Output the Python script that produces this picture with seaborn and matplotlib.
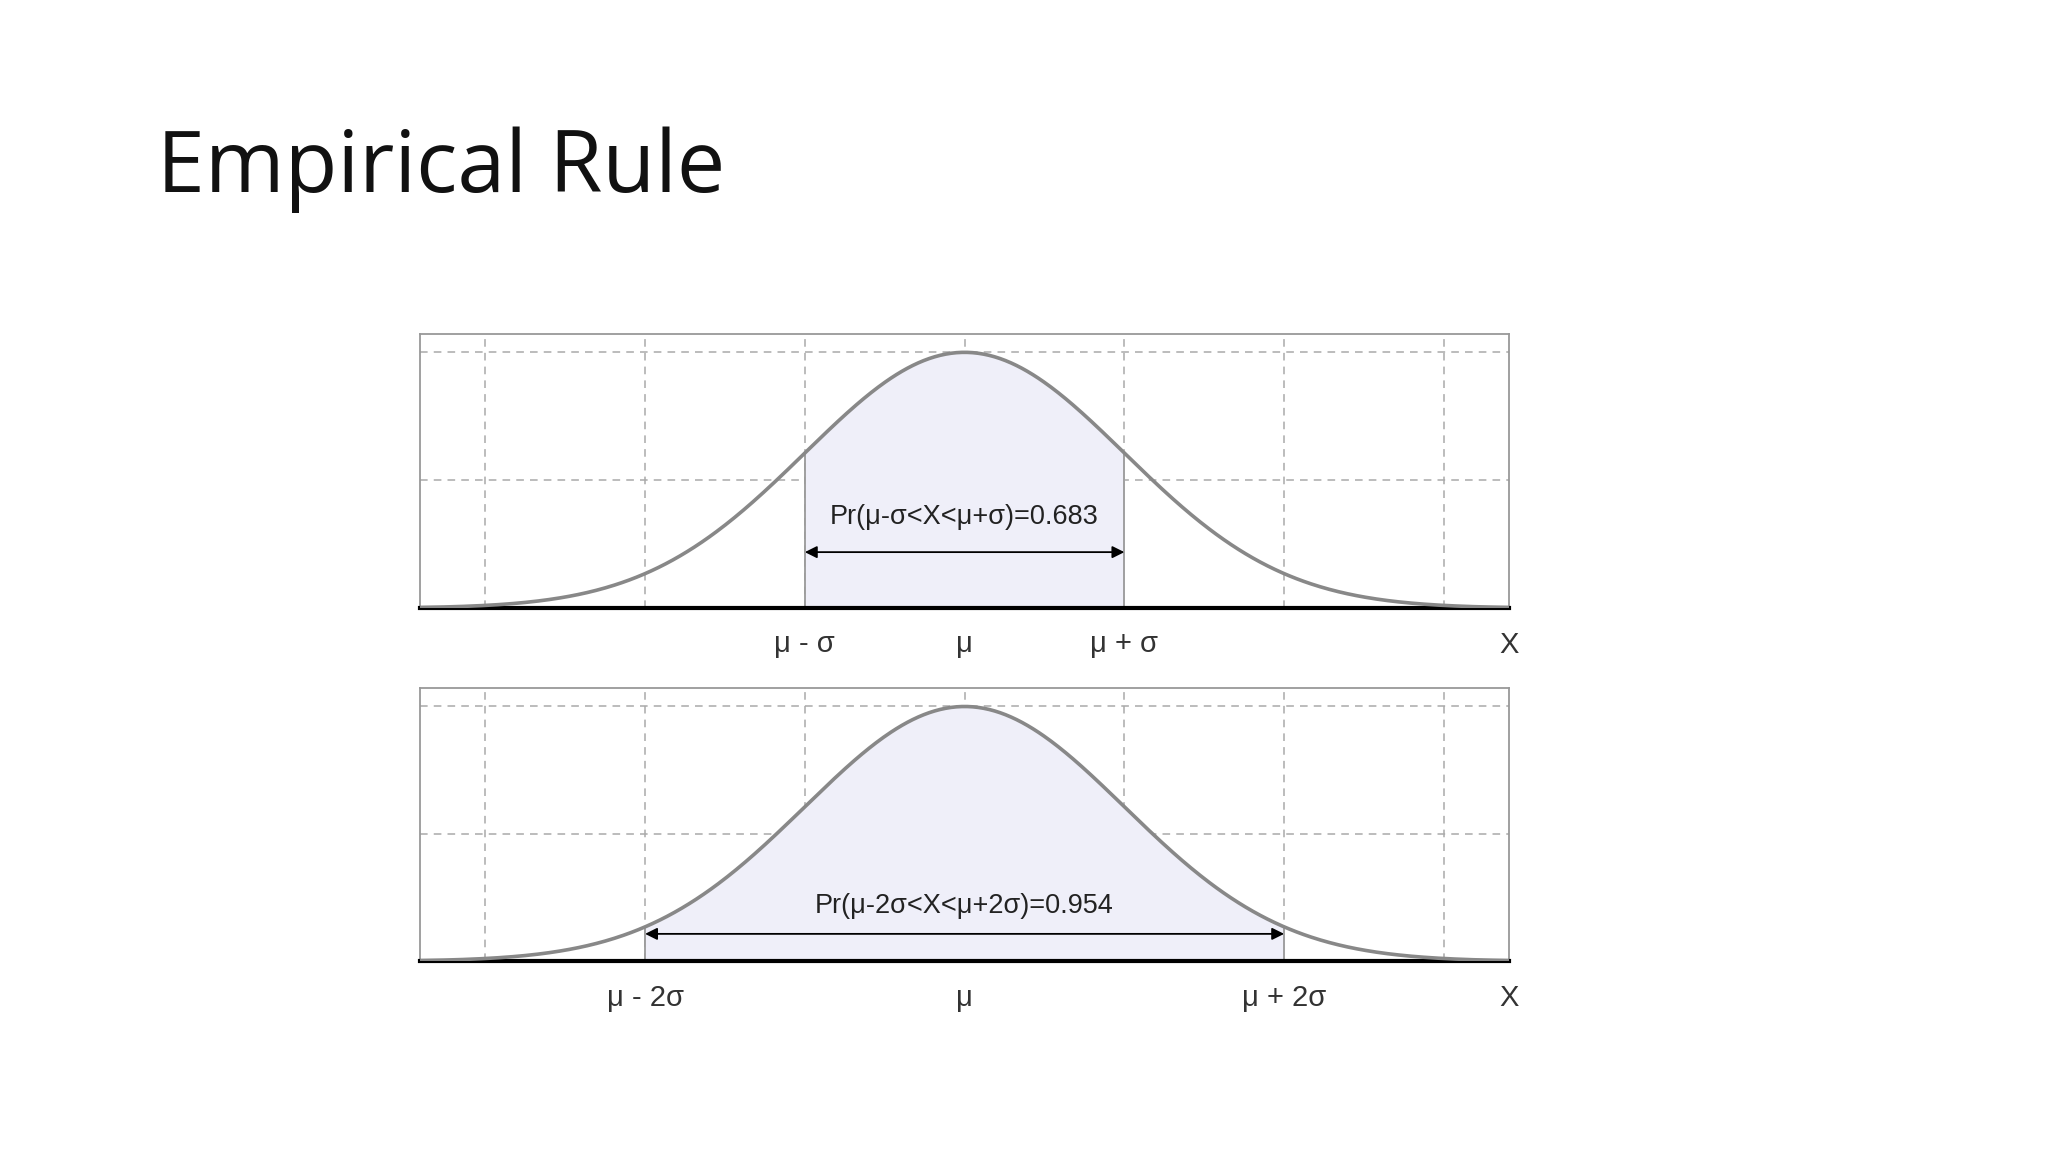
import numpy as np
import matplotlib.pyplot as plt
import seaborn as sns
import pandas as pd

sns.set_theme(style="white")
plt.rcParams['font.family'] = ['Liberation Sans', 'DejaVu Sans']

# chart content
title = "Empirical Rule"
sigma_ticks = [-3, -2, -1, 0, 1, 2, 3]
panels = [
    {"k": 1, "labels": ["", "", "μ - σ", "μ", "μ + σ", "", ""],
     "text": "Pr(μ-σ<X<μ+σ)=0.683", "text_y": 0.1425, "arrow_y": 0.0875},
    {"k": 2, "labels": ["", "μ - 2σ", "", "μ", "", "μ + 2σ", ""],
     "text": "Pr(μ-2σ<X<μ+2σ)=0.954", "text_y": 0.086, "arrow_y": 0.043},
]
x_lim = (-3.41, 3.41)
y_lim = (0, 0.4274)

# standard normal density
x = np.linspace(x_lim[0], x_lim[1], 600)
df = pd.DataFrame({"x": x, "pdf": np.exp(-x**2 / 2) / np.sqrt(2 * np.pi)})

fig = plt.figure(figsize=(20.48, 11.52), dpi=100)
fig.text(0.0765, 0.853, title, fontsize=62, family=['Open Sans', 'DejaVu Sans'],
         fontweight='normal', va='center', ha='left', color='#111111')

boxes = [[0.205, 0.472, 0.532, 0.238], [0.205, 0.1655, 0.532, 0.237]]
for box, p in zip(boxes, panels):
    ax = fig.add_axes(box)
    k = p["k"]
    mask = (df["x"] >= -k) & (df["x"] <= k)
    ax.fill_between(df["x"][mask], df["pdf"][mask], color="#efeff9", zorder=1)
    ax.vlines([-k, k], 0, df["pdf"][mask].iloc[[0, -1]], color="#999999", lw=1.3, zorder=2)
    sns.lineplot(data=df, x="x", y="pdf", ax=ax, color="#888888", lw=2.6, zorder=3)
    ax.set_xlim(x_lim)
    ax.set_ylim(y_lim)
    ax.set_xticks(sigma_ticks)
    ax.set_xticklabels(p["labels"], fontsize=21, color="#333333")
    ax.set_yticks([0.2, 0.4])
    ax.set_yticklabels([])
    ax.tick_params(length=0, pad=16)
    ax.grid(True, ls=(0, (5, 4)), color="#aaaaaa", lw=1.1)
    ax.set_xlabel("")
    ax.set_ylabel("")
    for s in ["top", "left", "right"]:
        ax.spines[s].set_color("#999999")
        ax.spines[s].set_linewidth(1.3)
    ax.spines["bottom"].set_color("black")
    ax.spines["bottom"].set_linewidth(3)
    ax.text(x_lim[1], -0.035, "X", fontsize=21, color="#333333", ha="center", va="top")
    ax.annotate("", xy=(-k, p["arrow_y"]), xytext=(k, p["arrow_y"]),
                arrowprops=dict(arrowstyle="<|-|>", color="black", lw=1.3,
                                mutation_scale=18, shrinkA=0, shrinkB=0), zorder=4)
    ax.text(0, p["text_y"], p["text"], fontsize=19.5, color="#222222",
            ha="center", va="center", zorder=4)

fig.savefig("out.png", dpi=100, facecolor="white")
